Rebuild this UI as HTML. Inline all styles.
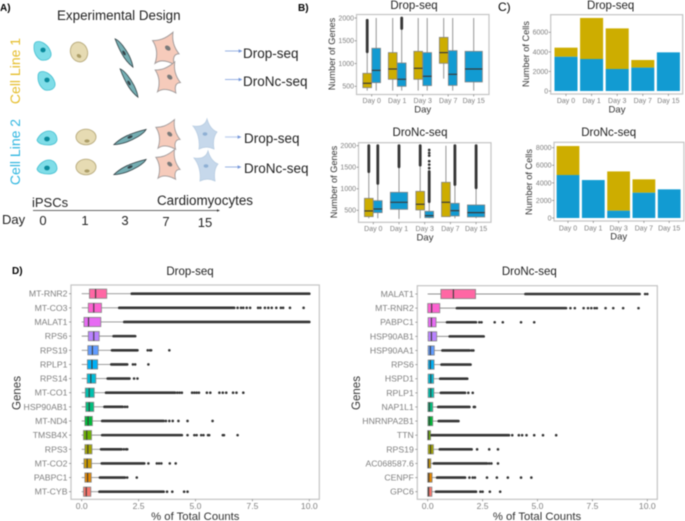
<!DOCTYPE html>
<html lang="en">
<head>
<meta charset="utf-8">
<title>Experimental design and sequencing QC</title>
<style>
html,body{margin:0;padding:0;background:#fff;width:685px;height:521px;overflow:hidden}
svg{display:block;font-family:"Liberation Sans",sans-serif;filter:blur(0.45px)}
</style>
</head>
<body>
<svg id="fig" xmlns="http://www.w3.org/2000/svg" width="685" height="521" viewBox="0 0 685 521">
<defs>
  <g id="cell-ipsc"><path d="M-7,-9 C-2,-11 6,-6 8,2 C9,8 3,10 -2,9 C-6,7 -9,2 -9,-3 C-9,-6 -9,-8 -7,-9Z" fill="#7fdde8" stroke="#45bfd0" stroke-width="0.8"/><ellipse cx="0" cy="-1" rx="2.6" ry="2.4" fill="#0b8a9c"/></g>
  <g id="cell-ipsc-wide"><path d="M-10,2 C-8,-3 -3,-7 2,-7 C7,-7 10,-3 10,2 C9,6 5,7 1,7 C-3,7 -9,6 -10,2Z" fill="#7fdde8" stroke="#45bfd0" stroke-width="0.8"/><ellipse cx="0" cy="1" rx="2.8" ry="2.4" fill="#0b8a9c"/></g>
  <g id="cell-beige"><ellipse cx="0" cy="0" rx="8.5" ry="10" transform="rotate(-20)" fill="#e6dbb3" stroke="#b8ab7c" stroke-width="0.9"/><ellipse cx="0" cy="4" rx="2.4" ry="1.8" transform="rotate(30 0 4)" fill="#ab9d68"/></g>
  <g id="cell-beige-wide"><ellipse cx="0" cy="0" rx="10" ry="7.8" fill="#e6dbb3" stroke="#b8ab7c" stroke-width="0.9"/><ellipse cx="1" cy="4" rx="2.6" ry="1.6" fill="#ab9d68"/></g>
  <g id="cell-spindle"><path d="M-19,9 C-12,2 -2,-4 19,-9 C16,-3 4,3 -4,6 C-10,8 -15,9 -19,9Z" fill="#74aeb3" stroke="#2c3a3e" stroke-width="0.9"/><ellipse cx="0" cy="0" rx="3.2" ry="1.6" transform="rotate(-22)" fill="#36454b"/></g>
  <g id="star-pink"><path d="M-11,-8 C-6,-8 -1,-9 6,-15 C5,-8 7,-2 11,3 C6,3 6,8 7,12 C0,8 -5,8 -9,11 C-7,5 -7,-2 -11,-8Z" fill="#f6cbbb" stroke="#a09a9a" stroke-width="0.8" transform="translate(-1,1)"/><ellipse cx="0" cy="-1" rx="2.6" ry="1.8" transform="rotate(40)" fill="#7a7a7a"/></g>
  <g id="star-blue"><path d="M-12,-9 C-6,-8 0,-9 2,-16 C4,-9 7,-5 12,-3 C8,2 8,8 9,14 C3,11 -2,12 -6,14 C-5,6 -7,-3 -12,-9Z" fill="#c6d8eb" stroke="#b9cde2" stroke-width="0.8"/><ellipse cx="0" cy="-1" rx="2.4" ry="1.7" fill="#8fb0d4"/></g>
</defs>

<g>
  <text x="0" y="11" font-size="10" font-weight="bold">A)</text>
  <text x="57" y="20" font-size="13.4" fill="#222">Experimental Design</text>
  <text transform="translate(20,71) rotate(-90)" text-anchor="middle" font-size="14" fill="#e5bd2a">Cell Line 1</text>
  <text transform="translate(20,152) rotate(-90)" text-anchor="middle" font-size="14" fill="#2fb6e0">Cell Line 2</text>

  <use href="#cell-ipsc" transform="translate(43,51)"/>
  <use href="#cell-beige" transform="translate(79,52)"/>
  <use href="#cell-spindle" transform="translate(124,53) rotate(-97) scale(0.8)"/>
  <use href="#star-pink" transform="translate(167,49) scale(1.2)"/>
  <use href="#cell-ipsc" transform="translate(47,81)"/>
  <use href="#cell-spindle" transform="translate(129,83) rotate(-97) scale(0.8)"/>
  <use href="#star-pink" transform="translate(169,78) scale(1.15)"/>

  <use href="#cell-ipsc-wide" transform="translate(47,138)"/>
  <use href="#cell-beige-wide" transform="translate(86,137)"/>
  <use href="#cell-spindle" transform="translate(130,137) scale(0.85)"/>
  <use href="#star-pink" transform="translate(169,135) scale(1.1)"/>
  <use href="#star-blue" transform="translate(205,135)"/>
  <use href="#cell-ipsc-wide" transform="translate(47,167)"/>
  <use href="#cell-beige-wide" transform="translate(86,167)"/>
  <use href="#cell-spindle" transform="translate(130,167) scale(0.85)"/>
  <use href="#star-pink" transform="translate(169,165) scale(1.1)"/>
  <use href="#star-blue" transform="translate(206,167)"/>

  <g stroke="#7f9fdc" stroke-width="0.8" fill="#5a7fd0">
    <path d="M225,51H240"/><path d="M239,49.8L241.5,51L239,52.2Z"/>
    <path d="M225,79.5H240"/><path d="M239,78.3L241.5,79.5L239,80.7Z"/>
    <path d="M225,137H238" stroke="#c3d3ef" stroke-width="1.4"/><path d="M238,135.8L240.5,137L238,138.2Z"/>
    <path d="M225,167H238"/><path d="M238,165.8L240.5,167L238,168.2Z"/>
  </g>
  <text x="243" y="58" font-size="13.5" fill="#222">Drop-seq</text>
  <text x="243" y="86" font-size="13.5" fill="#222">DroNc-seq</text>
  <text x="244" y="143" font-size="13.5" fill="#222">Drop-seq</text>
  <text x="244" y="173" font-size="13.5" fill="#222">DroNc-seq</text>

  <text x="32" y="207" font-size="13" fill="#222">iPSCs</text>
  <text x="157" y="205" font-size="13.4" fill="#222">Cardiomyocytes</text>
  <path d="M33,210.5H218" stroke="#333" stroke-width="0.8"/>
  <path d="M217,209.3L220,210.5L217,211.7Z" fill="#333"/>
  <text x="2" y="224" font-size="13" fill="#222">Day</text>
  <g font-size="13" text-anchor="middle" fill="#222">
    <text x="43" y="225">0</text>
    <text x="85" y="225">1</text>
    <text x="125" y="225">3</text>
    <text x="166" y="226">7</text>
    <text x="205" y="227">15</text>
  </g>
</g>

<text x="298" y="11" font-size="10" font-weight="bold">B)</text>
<text x="498" y="11" font-size="12">C)</text>
<text x="12" y="274" font-size="10" font-weight="bold">D)</text>
</svg>

<script>
// ---------- Panel B / C shared ----------
const dayLabels = ['Day 0','Day 1','Day 3','Day 7','Day 15'];
const geneTicks = [500,1000,1500,2000];
const dropCellTicks = [0,2000,4000,6000];
const droncCellTicks = [0,2000,4000,6000,8000];

// Panel B Drop-seq: low whisker, q1, median, q3, high whisker
const bDropYellow = [[405,470,566,785,1260],[405,654,880,1240,2000],[405,654,895,1268,2000],[668,1005,1240,1575,2000],null];
const bDropBlue = [[405,580,850,1335,2000],[405,500,654,1012,1770],[405,515,720,1240,2000],[405,520,763,1283,2000],[405,595,880,1268,2000]];
const bDropYellowBands = [[1260,1950],null,null,null,null];
const bDropBlueBands = [null,[1770,2000],null,null,null];
const bDropBlueDots = [[],[],[],[],[]];

// Panel B DroNc-seq
const bDroncYellow = [[315,353,485,778,1397],null,[315,508,640,940,1550],[353,353,686,1150,2000],null];
const bDroncBlue = [[315,446,530,724,1126],[300,523,686,918,1510],[315,330,376,477,700],[315,368,492,662,1100],[315,345,446,624,1025]];
const bDroncYellowBands = [[1397,2000],null,[1550,2000],null,null];
const bDroncBlueBands = [[1126,2000],[1510,2000],[700,1400],[1100,2000],[1025,2000]];
const bDroncBlueDots = [[],[],[1480,1560,1640,1770,1830,1900],[],[]];

// Panel C cell counts
const cDropBlue = [3500,3270,2250,2390,3950];
const cDropYellow = [930,4195,4150,780,0];
const cDroncBlue = [4890,4320,834,2880,3260];
const cDroncYellow = [3300,0,4466,1520,0];

// ---------- Panel D ----------
const pctTicks = [0,2.5,5,7.5,10];
const pctTickLabels = ['0.0','2.5','5.0','7.5','10.0'];
const huePalette = ['#FF67A4','#FD61D1','#E76BF3','#B983FF','#619CFF','#00B0F6','#00BCD8','#00C0AF','#00BF7D','#00BA38','#6BB100','#A3A500','#C99800','#E58700','#F8766D'];

const dropGenes = ['MT-RNR2','MT-CO3','MALAT1','RPS6','RPS19','RPLP1','RPS14','MT-CO1','HSP90AB1','MT-ND4','TMSB4X','RPS3','MT-CO2','PABPC1','MT-CYB'];
const dropQ1 = [.34,.29,.1,.29,.27,.25,.24,.16,.18,.14,.08,.14,.1,.14,.08];
const dropMedian = [.61,.53,.3,.53,.47,.45,.4,.33,.33,.28,.22,.27,.24,.26,.2];
const dropQ3 = [1.1,.87,.84,.77,.73,.7,.62,.55,.53,.47,.43,.45,.43,.42,.4];
const dropWhisker = [2.2,1.65,1.87,1.4,1.33,1.3,1.14,1.07,1,.9,.9,.85,.88,.8,.78];
const dropBandEnd = [10,6.7,10,2.35,2.45,2,2.1,4.1,1.8,3.6,4.4,1.75,2.75,1.9,3.6];
const dropDots = [
  [],[6.85,7,7.1,7.25,7.4,7.75,7.85,8.05,8.2,8.35,8.55,8.75,8.85,9.15,9.75],[],[],
  [2.9,3,3.05,3.85],[2.25,2.35,2.93],[2.3,2.45],
  [4.2,4.3,4.4,4.85,4.95,5.05,5.15,5.5,5.65,6.05,6.2,6.35,6.65,6.8,7.1],
  [1.9,2],[3.7,3.85,4,4.25,4.65,5.75],[4.65,4.95,5.05,5.25,5.35,5.55,5.6,6.2,6.25,6.85],
  [1.85,1.95,2],[2.93,3.3,3.4,3.5,3.87,4.13],[2,2.42],[3.75,3.98,4.5,4.65]
];

const droncGenes = ['MALAT1','MT-RNR2','PABPC1','HSP90AB1','HSP90AA1','RPS6','HSPD1','RPLP1','NAP1L1','HNRNPA2B1','TTN','RPS19','AC068587.6','CENPF','GPC6'];
const droncQ1 = [.6,0,.02,.02,.02,.02,.02,.02,.01,.01,0,.02,0,0,0];
const droncMedian = [1.17,.18,.17,.17,.12,.12,.14,.14,.08,.08,.03,.13,.03,.05,.04];
const droncQ3 = [2.18,.55,.38,.41,.3,.29,.27,.28,.23,.23,.13,.26,.14,.2,.19];
const droncWhisker = [4.45,1.33,.88,1,.67,.63,.57,.6,.48,.5,.18,.55,.28,.43,.38];
const droncBandEnd = [9.65,6.3,2.2,2.55,1.9,1.95,1.8,1.7,1.9,1.4,3.7,2,2.7,1.7,2.2];
const droncDots = [
  [9.9,10],[6.5,6.7,7.1,7.3,7.45,7.6,7.7,8.1,8.45,8.9,9.6],[2.35,2.45,3.05,3.42,4.25,4.85],[],
  [2,2.08],[],[],[1.85,2.05],[2.1,2.15],[],[3.85,4.15,4.3,4.5,4.85,5.25,5.85],
  [2.25,2.8,3.2],[2.8,2.9,3.2],[1.9,2.05,2.15,2.7,3.15,3.65,4.25,4.72],[2.4,2.5,2.83,3.3]
];

// ---------- drawing helpers ----------
const NS = 'http://www.w3.org/2000/svg';
const svg = document.getElementById('fig');
const YELLOW = '#cdad00', BLUE = '#129bd2', TICK = '#7f7f7f', FRAME = '#c4c4c4', DARK = '#353535';

function make(tag, parent, attrs) {
  const n = document.createElementNS(NS, tag);
  for (const k in attrs) n.setAttribute(k, attrs[k]);
  parent.appendChild(n);
  return n;
}
function linear(d0, d1, r0, r1) { return v => r0 + (v - d0) * (r1 - r0) / (d1 - d0); }
function label(parent, str, x, y, size, anchor, fill, rot) {
  const t = make('text', parent, {x: x, y: y, 'font-size': size, 'text-anchor': anchor, fill: fill});
  if (rot) { t.removeAttribute('x'); t.removeAttribute('y'); t.setAttribute('transform', 'translate(' + x + ',' + y + ') rotate(-90)'); }
  t.textContent = str;
  return t;
}
function frame(g, b) {
  const r = make('rect', g, {x: b.l, y: b.t, width: b.r - b.l, height: b.b - b.t, fill: 'none', stroke: FRAME, 'stroke-width': 1.2});
  
  
}
function line(g, x1, y1, x2, y2, stroke, w, cap) {
  return make('line', g, {x1: x1, y1: y1, x2: x2, y2: y2, stroke: stroke, 'stroke-width': w, 'stroke-linecap': cap || 'butt'});
}
function dot(g, x, y, r) {
  return make('circle', g, {cx: x, cy: y, r: r, fill: DARK});
}
function smallAxes(g, b, x, y, cats, ticks, L) {
  cats.forEach((c, i) => {
    const tk = line(g, x(i), b.b, x(i), b.b + 2, TICK, 0.7);
    
    
    const tl = label(g, c, x(i), L.xTickY, 7, 'middle', TICK);
    
    
  });
  ticks.forEach(v => {
    const tk = line(g, b.l - 2, y(v), b.l, y(v), TICK, 0.7);
    
    
    const tl = label(g, String(v), b.l - 2.5, y(v) + 2.4, 7, 'end', TICK);
    
    
  });
  const xt = label(g, 'Day', L.dayX, L.dayY, 9.5, 'middle', '#333');
  
  
  const yt = label(g, L.yTitle, L.yTitleX, L.yTitleY, 9.2, 'middle', '#333', true);
  
  
  const tt = label(g, L.title, L.titleX, L.titleY, 11.5, 'middle', '#222');
  
  
}
function verticalBox(g, cx, w, s, fill, y) {
  const wl = line(g, cx, y(s[0]), cx, y(s[4]), '#8a8a8a', 0.9);
  
  
  const r = make('rect', g, {x: cx - w / 2, y: y(s[3]), width: w, height: y(s[1]) - y(s[3]), fill: fill, stroke: '#858585', 'stroke-width': 0.8});
  
  
  const m = line(g, cx - w / 2, y(s[2]), cx + w / 2, y(s[2]), '#3a3a3a', 1.2);
  
  
}
function boxChart(name, b, dom, cats, ticks, yellow, blue, yellowBands, blueBands, blueDots, L) {
  const g = make('g', svg, {});
  
  
  const x = linear(0, 1, b.x0, b.x0 + b.step);
  const y = linear(dom[0], dom[1], dom[2], dom[3]);
  frame(g, b);
  smallAxes(g, b, x, y, cats, ticks, L);
  cats.forEach((c, i) => {
    const both = yellow[i] && blue[i];
    const off = both ? 4.5 : 0;
    const w = both ? 8.7 : 17.3;
    [[yellow, yellowBands, null, YELLOW, -off], [blue, blueBands, blueDots, BLUE, off]].forEach(cfg => {
      const s = cfg[0][i];
      if (!s) return;
      const cx = x(i) + cfg[4];
      verticalBox(g, cx, w, s, cfg[3], y);
      const band = cfg[1][i];
      if (band) {
        const o = line(g, cx, y(band[0]), cx, y(band[1]), DARK, 2.8, 'round');
        
        
      }
      if (cfg[2]) cfg[2][i].forEach(v => {
        const d = dot(g, cx, y(v), 1.35);
        
        
      });
    });
  });
}
function barChart(name, b, dom, cats, ticks, blue, yellow, L) {
  const g = make('g', svg, {});
  
  
  const x = linear(0, 1, b.x0, b.x0 + b.step);
  const y = linear(dom[0], dom[1], dom[2], dom[3]);
  frame(g, b);
  smallAxes(g, b, x, y, cats, ticks, L);
  const w = b.step * 0.9;
  cats.forEach((c, i) => {
    const total = blue[i] + yellow[i];
    if (yellow[i] > 0) {
      const ry = make('rect', g, {x: x(i) - w / 2, y: y(total), width: w, height: y(blue[i]) - y(total), fill: YELLOW});
      
      
    }
    const rb = make('rect', g, {x: x(i) - w / 2, y: y(blue[i]), width: w, height: y(0) - y(blue[i]), fill: BLUE});
    
    
  });
}
function geneChart(name, b, xr, rows, genes, q1, med, q3, whisker, bandEnd, dots, L) {
  const g = make('g', svg, {});
  
  
  const x = linear(0, 10, xr[0], xr[1]);
  const y = linear(0, genes.length - 1, rows[0], rows[1]);
  frame(g, b);
  pctTicks.forEach((v, i) => {
    const tk = line(g, x(v), b.b, x(v), b.b + 2, TICK, 0.7);
    
    
    const tl = label(g, pctTickLabels[i], x(v), 509, 8.6, 'middle', TICK);
    
    
  });
  genes.forEach((name2, i) => {
    const ry = y(i);
    const tk = line(g, b.l - 2, ry, b.l, ry, TICK, 0.7);
    
    
    const tl = label(g, name2, b.l - 3.5, ry + 3, 8.7, 'end', TICK);
    
    
    const wl = line(g, x(0), ry, x(whisker[i]), ry, '#8f8f8f', 0.9);
    
    
    const r = make('rect', g, {x: x(q1[i]), y: ry - 4.6, width: x(q3[i]) - x(q1[i]), height: 9.2, fill: huePalette[i], stroke: '#858585', 'stroke-width': 0.8});
    
    
    const m = line(g, x(med[i]), ry - 4.6, x(med[i]), ry + 4.6, '#3a3a3a', 1.1);
    
    
    const o = line(g, x(whisker[i]), ry, x(bandEnd[i]), ry, DARK, 2.6, 'round');
    
    
    dots[i].forEach(v => {
      const d = dot(g, x(v), ry, 1.3);
      
      
    });
  });
  const xt = label(g, '% of Total Counts', L.xTitleX, 520, 11.3, 'middle', '#333');
  
  
  const yt = label(g, 'Genes', L.yTitleX, 393, 11.5, 'middle', '#333', true);
  
  
  const tt = label(g, L.title, L.titleX, 275, 11.5, 'middle', '#222');
  
  
}

// ---------- render ----------
boxChart('genes-drop-seq-chart', {l: 356.5, r: 489, t: 14.5, b: 94.5, x0: 371.7, step: 25.5}, [500, 2000, 86.3, 18],
  dayLabels, geneTicks, bDropYellow, bDropBlue, bDropYellowBands, bDropBlueBands, bDropBlueDots,
  {xTickY: 103, dayX: 422.7, dayY: 112.5, yTitle: 'Number of Genes', yTitleX: 335, yTitleY: 54, title: 'Drop-seq', titleX: 414, titleY: 9});

boxChart('genes-dronc-seq-chart', {l: 358.5, r: 491, t: 142.7, b: 222.3, x0: 373.3, step: 25.7}, [500, 2000, 210.3, 145.7],
  dayLabels, geneTicks, bDroncYellow, bDroncBlue, bDroncYellowBands, bDroncBlueBands, bDroncBlueDots,
  {xTickY: 231, dayX: 425, dayY: 240.5, yTitle: 'Number of Genes', yTitleX: 337, yTitleY: 182, title: 'DroNc-seq', titleX: 420, titleY: 136});

barChart('cells-drop-seq-chart', {l: 550.7, r: 682.7, t: 14.7, b: 94, x0: 566, step: 25.6}, [0, 6000, 91, 32.3],
  dayLabels, dropCellTicks, cDropBlue, cDropYellow,
  {xTickY: 103, dayX: 617, dayY: 112.5, yTitle: 'Number of Cells', yTitleX: 529, yTitleY: 54, title: 'Drop-seq', titleX: 610.7, titleY: 9});

barChart('cells-dronc-seq-chart', {l: 554, r: 684, t: 142.3, b: 221, x0: 568, step: 25.3}, [0, 8000, 218, 147.7],
  dayLabels, droncCellTicks, cDroncBlue, cDroncYellow,
  {xTickY: 230.5, dayX: 618.7, dayY: 239.5, yTitle: 'Number of Cells', yTitleX: 532, yTitleY: 182, title: 'DroNc-seq', titleX: 608.7, titleY: 136});

geneChart('top-genes-drop-seq-chart', {l: 71, r: 319.3, t: 285, b: 499.3}, [81.7, 309.3], [293.7, 491.7],
  dropGenes, dropQ1, dropMedian, dropQ3, dropWhisker, dropBandEnd, dropDots,
  {xTitleX: 195.3, yTitleX: 20.5, title: 'Drop-seq', titleX: 190});

geneChart('top-genes-dronc-seq-chart', {l: 417.3, r: 657.3, t: 285.7, b: 499.3}, [427.7, 647.3], [294, 491.7],
  droncGenes, droncQ1, droncMedian, droncQ3, droncWhisker, droncBandEnd, droncDots,
  {xTitleX: 537, yTitleX: 360, title: 'DroNc-seq', titleX: 529.3});
</script>
</body>
</html>
